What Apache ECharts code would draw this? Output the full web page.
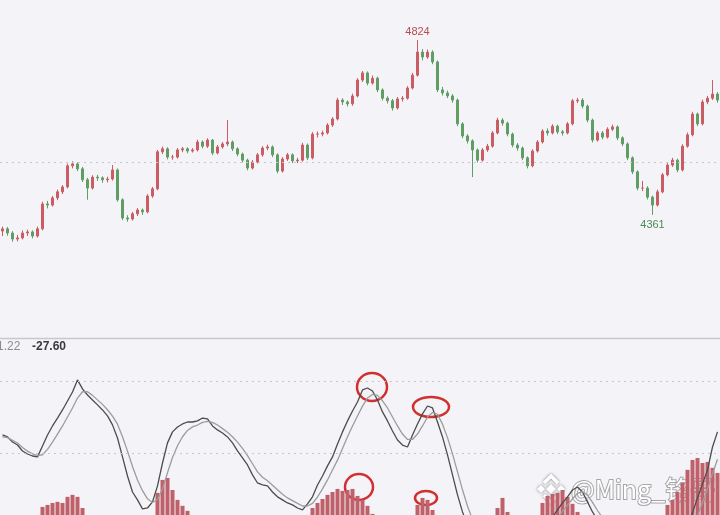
<!DOCTYPE html>
<html>
<head>
<meta charset="utf-8">
<title>K线 MACD</title>
<script src="https://cdn.jsdelivr.net/npm/echarts@6/dist/echarts.min.js"></script>
<style>
  html, body { margin: 0; padding: 0; background: #f4f4f8; }
  #chart { width: 720px; height: 515px; }
</style>
</head>
<body>
<div id="chart"></div>
<script>
  // K线数据 [开, 收, 低, 高]
  const kline = [
    [4318,4324,4305,4330],[4324,4313,4306,4329],[4313,4297,4290,4318],[4297,4300,4291,4308],
    [4300,4313,4296,4320],[4313,4316,4305,4322],[4316,4305,4299,4320],[4305,4324,4301,4330],
    [4324,4390,4320,4396],[4390,4387,4378,4398],[4387,4406,4383,4411],[4406,4422,4400,4428],
    [4422,4435,4416,4440],[4435,4491,4431,4497],[4491,4496,4484,4503],[4496,4483,4477,4500],
    [4483,4454,4448,4488],[4454,4432,4401,4459],[4432,4461,4428,4466],[4461,4459,4451,4467],
    [4459,4454,4446,4463],[4454,4456,4447,4462],[4456,4480,4452,4493],[4480,4401,4396,4484],
    [4401,4353,4347,4405],[4353,4350,4343,4360],[4350,4364,4346,4369],[4364,4374,4358,4379],
    [4374,4369,4361,4378],[4369,4411,4365,4416],[4411,4430,4406,4435],[4430,4528,4426,4533],
    [4528,4536,4522,4542],[4536,4514,4508,4540],[4514,4514,4507,4520],[4514,4533,4510,4538],
    [4533,4536,4527,4541],[4536,4530,4524,4540],[4530,4533,4526,4538],[4533,4554,4529,4560],
    [4554,4543,4537,4558],[4543,4559,4538,4564],[4559,4525,4519,4562],[4525,4541,4521,4546],
    [4541,4549,4536,4554],[4549,4554,4543,4612],[4554,4536,4530,4558],[4536,4522,4516,4540],
    [4522,4506,4500,4526],[4506,4485,4479,4510],[4485,4501,4481,4506],[4501,4520,4497,4525],
    [4520,4538,4515,4543],[4538,4541,4532,4547],[4541,4520,4514,4545],[4520,4477,4471,4524],
    [4477,4509,4473,4514],[4509,4520,4504,4525],[4520,4504,4498,4524],[4504,4506,4498,4512],
    [4506,4546,4502,4552],[4546,4512,4506,4550],[4512,4575,4508,4580],[4575,4575,4566,4582],
    [4575,4578,4569,4584],[4578,4599,4574,4604],[4599,4615,4594,4620],[4615,4665,4611,4671],
    [4665,4660,4652,4670],[4660,4655,4648,4664],[4655,4676,4650,4682],[4676,4718,4672,4723],
    [4718,4737,4713,4742],[4737,4710,4704,4741],[4710,4723,4706,4730],[4723,4692,4686,4727],
    [4692,4670,4664,4696],[4670,4663,4656,4675],[4663,4644,4637,4668],[4644,4668,4640,4673],
    [4668,4670,4661,4676],[4670,4697,4666,4702],[4697,4731,4693,4737],[4731,4792,4727,4824],
    [4792,4779,4770,4800],[4779,4792,4774,4799],[4792,4766,4760,4797],[4766,4692,4686,4770],
    [4692,4684,4677,4700],[4684,4676,4670,4690],[4676,4665,4658,4681],[4665,4602,4596,4669],
    [4602,4570,4564,4606],[4570,4557,4550,4575],[4557,4533,4461,4561],[4533,4506,4500,4537],
    [4506,4533,4502,4538],[4533,4543,4528,4549],[4543,4578,4539,4583],[4578,4612,4574,4618],
    [4612,4604,4597,4617],[4604,4575,4569,4608],[4575,4546,4540,4579],[4546,4538,4531,4551],
    [4538,4512,4506,4542],[4512,4491,4484,4516],[4491,4530,4487,4535],[4530,4554,4526,4559],
    [4554,4583,4550,4588],[4583,4578,4571,4590],[4578,4596,4574,4601],[4596,4581,4575,4600],
    [4581,4578,4571,4586],[4578,4602,4574,4607],[4602,4663,4598,4668],[4663,4665,4657,4671],
    [4665,4649,4643,4670],[4649,4612,4606,4653],[4612,4559,4553,4616],[4559,4578,4555,4583],
    [4578,4567,4561,4583],[4567,4588,4563,4593],[4588,4594,4583,4600],[4594,4565,4559,4598],
    [4565,4549,4543,4569],[4549,4512,4506,4553],[4512,4475,4469,4516],[4475,4432,4426,4479],
    [4432,4432,4424,4451],[4432,4408,4402,4437],[4408,4387,4361,4412],[4387,4422,4383,4428],
    [4422,4467,4418,4472],[4467,4493,4463,4498],[4493,4506,4488,4512],[4506,4480,4474,4510],
    [4480,4543,4476,4548],[4543,4573,4539,4579],[4573,4628,4569,4634],[4628,4602,4596,4632],
    [4602,4660,4598,4666],[4660,4670,4654,4676],[4670,4681,4665,4718],[4681,4665,4658,4686]
  ];

  // MACD 快线 / 慢线 / 柱
  const dif = [
    50,48.9,46.1,44.4,41.1,39.4,38.3,37.8,43.9,50,55,59.4,63.9,68.9,73.9,80.6,
    75.6,72.2,69.4,66.7,63.9,60.6,55.6,48.3,37.8,27.2,18.3,13.9,8.9,9.4,12.8,21.7,
    34.4,45.6,51.7,54.4,56.1,57.2,57.2,57.8,59.4,58.9,55,52.8,51.1,48.9,45.6,41.1,
    37.2,33.3,27.8,23.3,22.2,21.7,18.3,15.6,13.9,12.2,11.1,9.4,8.3,11.7,15.6,22.2,
    27.2,32.8,37.8,45,51.7,57.8,63.3,68.3,75,76.1,74.4,69.4,62.8,57.8,52.2,47.2,
    44.4,43.3,50,56.1,61.7,66.1,65,57.2,48.9,38.9,27.8,16.7,7.2,0,-5.6,-10,
    -12.8,-13.9,-12.8,-10,-8.3,-8.3,-10,-11.7,-13.9,-15.6,-13.9,-10,-4.4,0,4.4,8.3,
    12.2,15.6,19.4,21.1,18.3,12.8,7.2,2.8,0,-1.7,-2.8,-5.6,-9.4,-13.9,-19.4,-25,
    -28.9,-32.2,-35,-33.3,-27.8,-22.2,-16.7,-12.8,-7.2,-0.6,6.7,15,22.8,30.6,43.3,51.7
  ];
  const dea = [
    49,48.5,47,45.5,43,41,39.5,38.5,39,42,46,50.5,55,60,65,70.5,
    74,74,72,69.5,67,64,60.5,56,49,41,32.5,25,19,14.5,12.5,14,
    20,29,37.5,44,49,52.5,54.5,55.5,57,57.5,57,55.5,53.5,51.5,49,46,
    42.5,38.5,34,29.5,26.5,24.5,22,19.5,17,15,13.5,12,10.5,10.5,12,15.5,
    20,25,30.5,36,42.5,49,55,60.5,66,70.5,72.5,72,69,65,60,55,
    50.5,47.5,47.5,50.5,55,60,62.5,61.5,56,48.5,39.5,29.5,19.5,10.5,3,-3,
    -7.5,-10.5,-12,-12,-10.5,-9.5,-9.5,-10.5,-12,-13.5,-14.5,-13,-10,-5.5,-1,3.5,
    7.5,11,14.5,17.5,18.5,16.5,12.5,8,4,1.5,-0.5,-2.5,-5.5,-9.5,-14,-19,
    -24,-28,-31.5,-32.5,-31,-27.5,-23,-18,-13.5,-8.5,-2.5,5,12.5,20,28.5,36.5
  ];
  const macdBar = [
    1,0,-1,-1,-2,-2,0,2,
    10,11.1,12.2,12.8,12.2,15.6,16.7,15.6,9.4,
    3,-2,-4,-6,-8,-10,-12,-14,-15,-14,-10,-6,-3,2,
    17.8,25,26.1,19.4,13.9,10.6,7.8,4,
    2,2,1,-2,-3,-3,-3,-4,-5,-6,-6,-6,-5,-4,-4,-4,-3,-3,-2,-2,-2,0,
    4,
    9.4,12.2,14.4,16.7,18.3,20,18.9,19.4,20,16.1,13.9,10.6,6.1,
    2,-3,-6,-8,-8,-6,-4,2,
    11.1,15,13.9,8.3,
    3,-4,-8,-11,-13,-12,-10,-9,-7,-5,-3,-1,
    9.4,15,7.2,
    2,-1,-2,-2,0,3,
    12.2,16.1,17.2,17.8,19.4,15.6,11.7,7.2,
    2,-2,-4,-5,-4,-3,-2,-3,-4,-4,-5,-6,-5,-4,-3,0,3,
    11.1,13.9,18.3,23.3,30.6,36.1,37.2,34.4,35,31.7,28.9
  ];

  const highMark = [83, 4824];
  const lowMark = [130, 4361];
  const midPrice = 4500;          // 上图虚线
  const macdLevels = [40, 80];    // 下图虚线
  const macdHead = ['1.22', '-27.60'];
  const watermark = '@Ming_铭哥';

  const days = kline.map(function (k, i) { return i; });

  const upColor = '#c95d63';
  const downColor = '#5f9d64';
  const shadow = 'rgba(0,0,0,0.5)';

  const myChart = echarts.init(document.getElementById('chart'));
  myChart.setOption({
    backgroundColor: '#f4f4f8',
    animation: false,
    grid: [
      { left: 0, right: 0, top: 0, height: 338 },
      { left: 0, right: 0, top: 345, bottom: 0 }
    ],
    xAxis: [
      { type: 'category', data: days, gridIndex: 0, show: false },
      { type: 'category', data: days, gridIndex: 1, show: false }
    ],
    yAxis: [
      { type: 'value', gridIndex: 0, min: 4035, max: 4930, show: false, splitLine: { show: false } },
      // 零轴在画面下方之外
      { type: 'value', gridIndex: 1, min: 5.5, max: 100, show: false, splitLine: { show: false } }
    ],
    series: [
      {
        type: 'candlestick',
        data: kline,
        barWidth: 3,
        itemStyle: {
          color: upColor,
          color0: downColor,
          borderColor: upColor,
          borderColor0: downColor,
          borderWidth: 1
        },
        markLine: {
          silent: true,
          symbol: ['none', 'none'],
          label: { show: false },
          lineStyle: { color: '#c6c6cc', type: [2, 4], width: 1 },
          data: [{ yAxis: midPrice }]
        },
        markPoint: {
          silent: true,
          symbol: 'circle',
          symbolSize: 1,
          itemStyle: { color: 'rgba(0,0,0,0)' },
          data: [
            {
              coord: highMark, value: highMark[1],
              label: { show: true, position: 'top', distance: 2, color: '#b94a52', fontSize: 11 }
            },
            {
              coord: lowMark, value: lowMark[1],
              label: { show: true, position: 'bottom', distance: 4, color: '#4b8a52', fontSize: 11 }
            }
          ]
        }
      },
      {
        type: 'bar',
        xAxisIndex: 1,
        yAxisIndex: 1,
        data: macdBar,
        barWidth: 4,
        clip: true,
        itemStyle: {
          color: function (p) { return p.value >= 0 ? '#c0606a' : downColor; }
        }
      },
      {
        type: 'line',
        xAxisIndex: 1,
        yAxisIndex: 1,
        data: dif,
        symbol: 'none',
        lineStyle: { color: '#4c4c4c', width: 1.3 },
        markLine: {
          silent: true,
          symbol: ['none', 'none'],
          label: { show: false },
          lineStyle: { color: '#c6c6cc', type: [2, 4], width: 1 },
          data: macdLevels.map(function (v) { return { yAxis: v }; })
        }
      },
      {
        type: 'line',
        xAxisIndex: 1,
        yAxisIndex: 1,
        data: dea,
        symbol: 'none',
        lineStyle: { color: '#9c9c9c', width: 1.3 }
      }
    ],
    graphic: [
      { type: 'line', shape: { x1: 0, y1: 338.5, x2: 720, y2: 338.5 }, style: { stroke: '#c8c8cc', lineWidth: 1.5 } },
      { type: 'text', x: -3, y: 341, style: { text: macdHead[0], font: '12px "Liberation Sans"', fill: '#8c8c8c' } },
      { type: 'text', x: 32, y: 341, style: { text: macdHead[1], font: 'bold 12px "Liberation Sans"', fill: '#3a3a3a' } },
      // 红圈标注
      { type: 'ellipse', shape: { cx: 372, cy: 387, rx: 15, ry: 14 }, style: { fill: 'none', stroke: '#d22f2f', lineWidth: 2.5 } },
      { type: 'ellipse', shape: { cx: 431, cy: 407, rx: 18, ry: 10 }, style: { fill: 'none', stroke: '#d22f2f', lineWidth: 2.5 } },
      { type: 'ellipse', shape: { cx: 359, cy: 487, rx: 14, ry: 13 }, style: { fill: 'none', stroke: '#d22f2f', lineWidth: 2.5 } },
      { type: 'ellipse', shape: { cx: 426, cy: 498, rx: 11, ry: 7 }, style: { fill: 'none', stroke: '#d22f2f', lineWidth: 2.5 } },
      // 水印
      {
        type: 'group',
        children: [
          { type: 'polygon', shape: { points: [[551, 484], [556, 489], [551, 494], [546, 489]] }, style: { fill: '#fff', shadowColor: shadow, shadowBlur: 3 } },
          { type: 'polygon', shape: { points: [[541, 485], [545, 489], [541, 493], [537, 489]] }, style: { fill: '#fff', shadowColor: shadow, shadowBlur: 3 } },
          { type: 'polygon', shape: { points: [[561, 485], [565, 489], [561, 493], [557, 489]] }, style: { fill: '#fff', shadowColor: shadow, shadowBlur: 3 } },
          { type: 'polyline', shape: { points: [[544, 483], [551, 476], [558, 483]] }, style: { stroke: '#fff', lineWidth: 3.5, shadowColor: shadow, shadowBlur: 3 } },
          { type: 'polyline', shape: { points: [[544, 495], [551, 502], [558, 495]] }, style: { stroke: '#fff', lineWidth: 3.5, shadowColor: shadow, shadowBlur: 3 } },
          {
            type: 'text', x: 571, y: 489,
            style: {
              text: watermark, font: '25px "Noto Sans CJK SC"', fill: '#ffffff',
              stroke: 'rgba(70,70,70,0.45)', lineWidth: 2, strokeFirst: true,
              verticalAlign: 'middle', shadowColor: shadow, shadowBlur: 2
            }
          }
        ]
      }
    ]
  });
</script>
</body>
</html>
